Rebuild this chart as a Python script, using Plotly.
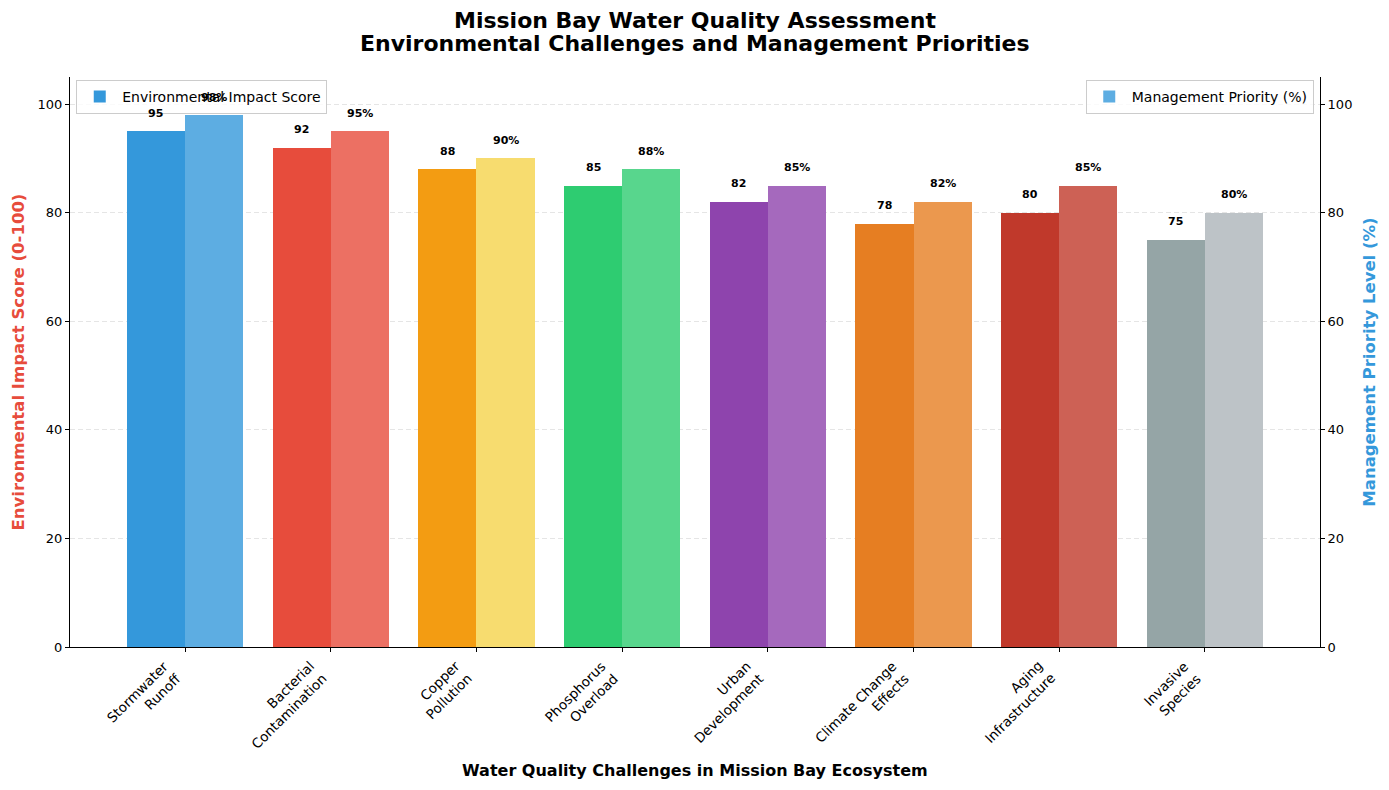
import plotly.graph_objects as go

categories = ["Stormwater<br>Runoff", "Bacterial<br>Contamination", "Copper<br>Pollution",
              "Phosphorus<br>Overload", "Urban<br>Development", "Climate Change<br>Effects",
              "Aging<br>Infrastructure", "Invasive<br>Species"]
impact_scores = [95, 92, 88, 85, 82, 78, 80, 75]
priority_levels = [98, 95, 90, 88, 85, 82, 85, 80]
impact_colors = ["#3498db", "#e74c3c", "#f39c12", "#2ecc71", "#8e44ad", "#e67e22", "#c0392b", "#95a5a6"]
priority_colors = ["#5dade2", "#ec7063", "#f7dc6f", "#58d68d", "#a569bd", "#eb984e", "#cd6155", "#bdc3c7"]
title_lines = ["Mission Bay Water Quality Assessment",
               "Environmental Challenges and Management Priorities"]

idx = list(range(len(categories)))
w = 0.4
FONT = "DejaVu Sans"

fig = go.Figure()
fig.add_trace(go.Bar(
    x=[i - w / 2 for i in idx], y=impact_scores, width=w,
    marker=dict(color=impact_colors, line=dict(width=0)),
    name="Environmental Impact Score", legend="legend", yaxis="y",
))
fig.add_trace(go.Bar(
    x=[i + w / 2 for i in idx], y=priority_levels, width=w,
    marker=dict(color=priority_colors, line=dict(width=0)),
    name="Management Priority (%)", legend="legend2", yaxis="y2",
))

annotations = []
for i, v in zip(idx, impact_scores):
    annotations.append(dict(x=i - w / 2, y=v, xref="x", yref="y", text=f"<b>{v}</b>",
                            showarrow=False, yanchor="middle", yshift=18,
                            font=dict(family=FONT, size=11, color="black")))
for i, v in zip(idx, priority_levels):
    annotations.append(dict(x=i + w / 2, y=v, xref="x", yref="y", text=f"<b>{v}%</b>",
                            showarrow=False, yanchor="middle", yshift=18,
                            font=dict(family=FONT, size=11, color="black")))
# rotated category labels, right-aligned at the tick like the reference
for i, c in zip(idx, categories):
    annotations.append(dict(x=i, y=0, xref="x", yref="paper", text=c, textangle=-45,
                            showarrow=False, xanchor="right", yanchor="top", align="right",
                            yshift=-8, xshift=2,
                            font=dict(family=FONT, size=13.5, color="black")))
# x axis title
annotations.append(dict(x=0.5, y=0, xref="paper", yref="paper",
                        text="<b>Water Quality Challenges in Mission Bay Ecosystem</b>",
                        showarrow=False, xanchor="center", yanchor="middle", yshift=-123,
                        font=dict(family=FONT, size=16, color="black")))
# title lines
for line, ys in zip(title_lines, [57, 34]):
    annotations.append(dict(x=0.5, y=1, xref="paper", yref="paper", text=f"<b>{line}</b>",
                            showarrow=False, xanchor="center", yanchor="middle", yshift=ys,
                            font=dict(family=FONT, size=22, color="black")))

fig.update_layout(
    width=1389, height=790,
    paper_bgcolor="white", plot_bgcolor="white",
    font=dict(family=FONT, size=13, color="black"),
    margin=dict(l=70, r=69, t=77, b=143),
    bargap=0, barmode="overlay",
    xaxis=dict(range=[-0.79, 7.79], tickmode="array", tickvals=idx, ticktext=categories,
               showticklabels=False, showgrid=False, zeroline=False, showline=True,
               linecolor="black", linewidth=1, ticks="outside", ticklen=4, tickcolor="black"),
    yaxis=dict(range=[0, 105], tickvals=[0, 20, 40, 60, 80, 100], showgrid=True,
               gridcolor="rgba(0,0,0,0.1)", griddash="5px,3px", gridwidth=1,
               zeroline=False, showline=True, linecolor="black", linewidth=1,
               ticks="outside", ticklen=4, tickcolor="black",
               tickfont=dict(family=FONT, size=13),
               title=dict(text="<b>Environmental Impact Score (0-100)</b>",
                          font=dict(family=FONT, size=16.5, color="#e74c3c"), standoff=8)),
    yaxis2=dict(range=[0, 105], tickvals=[0, 20, 40, 60, 80, 100], overlaying="y", side="right",
                showgrid=False, zeroline=False, showline=True, linecolor="black", linewidth=1,
                ticks="outside", ticklen=4, tickcolor="black",
                tickfont=dict(family=FONT, size=13),
                title=dict(text="<b>Management Priority Level (%)</b>",
                           font=dict(family=FONT, size=16.5, color="#3498db"), standoff=12)),
    legend=dict(x=0.005, y=0.995, xanchor="left", yanchor="top",
                bgcolor="rgba(255,255,255,0.8)", bordercolor="#cccccc", borderwidth=1,
                font=dict(family=FONT, size=14), itemwidth=35),
    legend2=dict(x=0.995, y=0.995, xanchor="right", yanchor="top",
                 bgcolor="rgba(255,255,255,0.8)", bordercolor="#cccccc", borderwidth=1,
                 font=dict(family=FONT, size=14), itemwidth=35),
    annotations=annotations,
    showlegend=True,
)

fig.write_html("out.html")
